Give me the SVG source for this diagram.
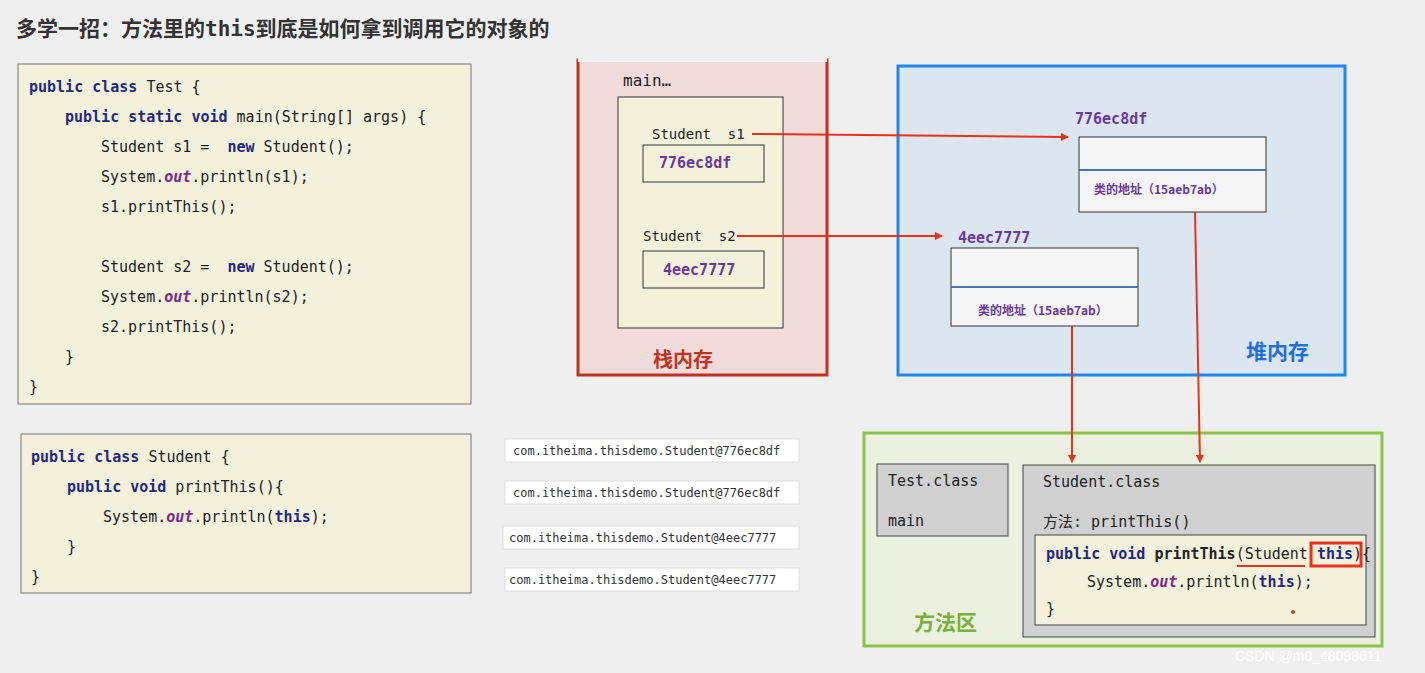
<svg xmlns="http://www.w3.org/2000/svg" width="1425" height="673" viewBox="0 0 1425 673">
<style>
text{white-space:pre}
.m{font-family:"DejaVu Sans Mono","Liberation Mono",monospace;font-size:15px;fill:#222}
.kw{fill:#1f2a80;font-weight:bold}
.it{fill:#7a2a8a;font-weight:bold;font-style:italic}
.code{fill:#f3f1dc;stroke:#777;stroke-width:1}
.addr{font-family:"DejaVu Sans Mono",monospace;font-size:15px;font-weight:bold;fill:#6a3a9a}
.cn{font-family:"Noto Sans CJK SC",sans-serif;font-weight:bold}
.out{fill:#fff;stroke:#ddd}
.o{font-family:"DejaVu Sans Mono",monospace;font-size:12px;fill:#333}
.ar{stroke:#e8321c;stroke-width:2;fill:none;marker-end:url(#a)}
</style>
<defs><marker id="a" markerWidth="8" markerHeight="8" refX="7" refY="4" orient="auto" markerUnits="userSpaceOnUse"><path d="M0,0L8,4L0,8z" fill="#e8321c"/></marker></defs>
<rect width="1425" height="673" fill="#efefef"/>
<text x="16" y="36" class="cn" font-size="21" fill="#333">多学一招：方法里的<tspan font-family="DejaVu Sans Mono,monospace">this</tspan>到底是如何拿到调用它的对象的</text>
<g id="test">
<rect x="18" y="64" width="453" height="340" class="code"/>
<text class="m"><tspan x="29" y="92"><tspan class="kw">public class</tspan> Test {</tspan><tspan x="65" y="122"><tspan class="kw">public static void</tspan> main(String[] args) {</tspan><tspan x="101" y="152">Student s1 =  <tspan class="kw">new</tspan> Student();</tspan><tspan x="101" y="182">System.<tspan class="it">out</tspan>.println(s1);</tspan><tspan x="101" y="212">s1.printThis();</tspan><tspan x="101" y="272">Student s2 =  <tspan class="kw">new</tspan> Student();</tspan><tspan x="101" y="302">System.<tspan class="it">out</tspan>.println(s2);</tspan><tspan x="101" y="332">s2.printThis();</tspan><tspan x="65" y="362">}</tspan><tspan x="29" y="392">}</tspan></text>
</g>
<g id="student">
<rect x="21" y="434" width="450" height="159" class="code"/>
<text class="m"><tspan x="31" y="462"><tspan class="kw">public class</tspan> Student {</tspan><tspan x="67" y="492"><tspan class="kw">public void</tspan> printThis(){</tspan><tspan x="103" y="522">System.<tspan class="it">out</tspan>.println(<tspan class="kw">this</tspan>);</tspan><tspan x="67" y="552">}</tspan><tspan x="31" y="582">}</tspan></text>
</g>
<g id="outputs">
<rect x="505" y="439" width="294" height="23" class="out"/><text x="513" y="455" class="o">com.itheima.thisdemo.Student@776ec8df</text>
<rect x="505" y="481" width="294" height="23" class="out"/><text x="513" y="497" class="o">com.itheima.thisdemo.Student@776ec8df</text>
<rect x="503" y="526" width="296" height="23" class="out"/><text x="509" y="542" class="o">com.itheima.thisdemo.Student@4eec7777</text>
<rect x="505" y="568" width="294" height="23" class="out"/><text x="509" y="584" class="o">com.itheima.thisdemo.Student@4eec7777</text>
</g>
<g id="stack">
<rect x="578" y="60" width="249" height="315" fill="#f2dcdb" stroke="#c0321f" stroke-width="3"/>
<rect x="578" y="58" width="249" height="4" fill="#efefef"/>
<text x="623" y="86" class="m" style="font-size:16px">main…</text>
<rect x="618" y="97" width="165" height="231" fill="#f3f1dc" stroke="#333"/>
<text x="652" y="139" class="m" style="font-size:14px">Student  s1</text>
<rect x="643" y="145" width="121" height="37" fill="#f3f1dc" stroke="#333"/>
<text x="659" y="168" class="addr">776ec8df</text>
<text x="643" y="241" class="m" style="font-size:14px">Student  s2</text>
<rect x="643" y="251" width="121" height="37" fill="#f3f1dc" stroke="#333"/>
<text x="663" y="275" class="addr">4eec7777</text>
<text x="653" y="367" class="cn" font-size="20" fill="#c0321f">栈内存</text>
</g>
<g id="heap">
<rect x="898" y="66" width="447" height="309" fill="#dce6f1" stroke="#1e88f0" stroke-width="3"/>
<text x="1075" y="124" class="addr">776ec8df</text>
<rect x="1079" y="137" width="187" height="75" fill="#f5f5f5" stroke="#333"/>
<line x1="1079" y1="170" x2="1266" y2="170" stroke="#4a73b0" stroke-width="2"/>
<text x="1094" y="194" class="cn" font-size="12" fill="#6a3a9a">类的地址（15aeb7ab）</text>
<text x="958" y="243" class="addr">4eec7777</text>
<rect x="951" y="248" width="187" height="78" fill="#f5f5f5" stroke="#333"/>
<line x1="951" y1="287" x2="1138" y2="287" stroke="#4a73b0" stroke-width="2"/>
<text x="978" y="315" class="cn" font-size="12" fill="#6a3a9a">类的地址（15aeb7ab）</text>
<text x="1246" y="359" class="cn" font-size="21" fill="#1e6fe0">堆内存</text>
</g>
<g id="method">
<rect x="864" y="433" width="518" height="213" fill="#ebf0e0" stroke="#8bc34a" stroke-width="3"/>
<rect x="877" y="464" width="131" height="72" fill="#d0d0d0" stroke="#444"/>
<text x="888" y="486" class="m">Test.class</text>
<text x="888" y="526" class="m">main</text>
<rect x="1023" y="465" width="352" height="172" fill="#d0d0d0" stroke="#444"/>
<text x="1043" y="487" class="m">Student.class</text>
<text x="1043" y="527" class="m"><tspan font-family="Noto Sans CJK SC,sans-serif">方法</tspan>: printThis()</text>
<rect x="1035" y="535" width="331" height="90" fill="#f3f1dc" stroke="#444"/>
<text class="m"><tspan x="1046" y="559"><tspan class="kw">public void</tspan> <tspan font-weight="bold">printThis</tspan>(Student <tspan class="kw">this</tspan>){</tspan><tspan x="1087" y="587">System.<tspan class="it">out</tspan>.println(<tspan class="kw">this</tspan>);</tspan><tspan x="1046" y="614">}</tspan></text>
<line x1="1237" y1="566" x2="1305" y2="566" stroke="#e8321c" stroke-width="2"/>
<rect x="1311" y="543" width="50" height="23" fill="none" stroke="#e8321c" stroke-width="3"/>
<circle cx="1293" cy="612" r="2" fill="#e8321c"/>
<text x="914" y="630" class="cn" font-size="21" fill="#7ab03a">方法区</text>
</g>
<g id="connectors">
<path d="M752,134 L1068,137" class="ar"/>
<path d="M737,236 L942,236" class="ar"/>
<path d="M1195,212 L1200,462" class="ar"/>
<path d="M1072,326 L1072,462" class="ar"/>
</g>
<text x="1235" y="661" font-family="Liberation Sans,sans-serif" font-size="14" fill="#fff">CSDN @m0_48098611</text>
</svg>
